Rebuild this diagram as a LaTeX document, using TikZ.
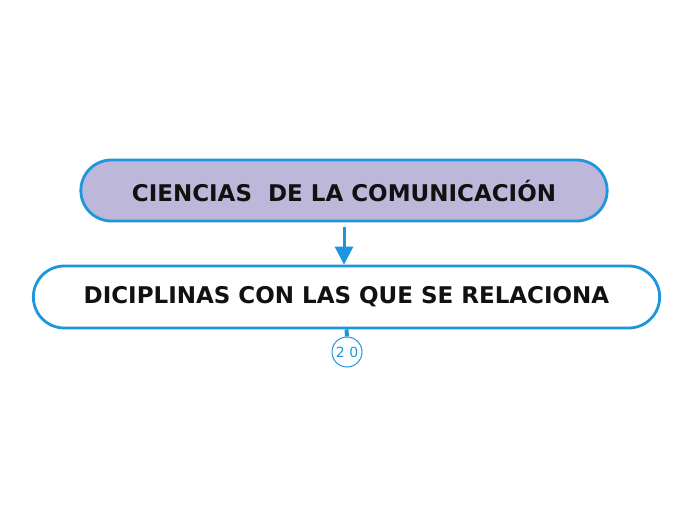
\documentclass[tikz,border=0pt]{standalone}
\usepackage{fontspec}
\setsansfont{DejaVu Sans}
\usepackage{tikz}
\usetikzlibrary{arrows.meta,positioning,shapes.misc}
\definecolor{Line}{HTML}{1E96DC}
\definecolor{Lilac}{HTML}{BDB8DA}
\definecolor{Ink}{HTML}{111111}
\tikzset{
  topic/.style={rounded rectangle,draw=Line,line width=2.8pt,
    font=\sffamily\bfseries\fontsize{23}{26}\selectfont,text=Ink},
  badge/.style={circle,draw=Line,line width=1pt,minimum size=30pt,inner sep=0pt,
    font=\sffamily\fontsize{14}{16}\selectfont,text=Line},
}
\begin{document}
\begin{tikzpicture}[x=1pt,y=-1pt]
        \useasboundingbox (0,0) rectangle (696,520);
        \node[topic,fill=Lilac,minimum width=533pt,minimum height=61pt] (ciencias) at (344,190.5) {CIENCIAS\ \ DE LA COMUNICACIÓN};
        \node[topic,fill=white,minimum width=633pt,minimum height=62pt] (disciplinas) at (346.5,297) {DICIPLINAS CON LAS QUE SE RELACIONA};
        \node[badge] (cuenta) at (347,352) {2\,\,0};
        \draw[Line,line width=3pt,shorten <=5pt,-{Triangle[length=18pt,width=18pt]}] (ciencias.south) -- (ciencias.south |- disciplinas.north);
        \draw[Line,line width=4pt] (disciplinas.south) -- (cuenta.north);
      \end{tikzpicture}
\end{document}
